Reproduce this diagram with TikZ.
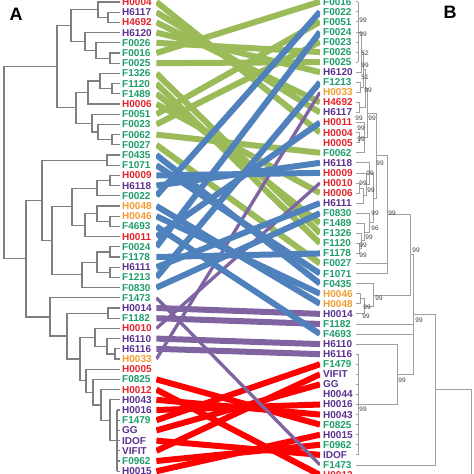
\documentclass[tikz,border=0pt]{standalone}
\usepackage{fontspec}
\setmainfont{Liberation Sans}
\definecolor{labgreen}{HTML}{1E9E6B}
\definecolor{labred}{HTML}{E4232B}
\definecolor{labpurple}{HTML}{5B318F}
\definecolor{laborange}{HTML}{F39C2E}
\definecolor{ribgreen}{HTML}{9BBB59}
\definecolor{ribblue}{HTML}{4F81BD}
\definecolor{ribpurple}{HTML}{8064A2}
\definecolor{ribred}{HTML}{FF0000}
\definecolor{ltreegray}{HTML}{7F7F7F}
\definecolor{rtreegray}{HTML}{A0A0A0}
\tikzset{
  leftlab/.style={anchor=west, inner xsep=1pt, inner ysep=0pt, text width=33pt, align=left, font=\bfseries\fontsize{10}{12}\selectfont},
  rightlab/.style={anchor=west, inner xsep=3pt, inner ysep=0pt, text width=33pt, align=left, font=\bfseries\fontsize{10}{12}\selectfont},
  ribbon/.style={line width=6pt},
  thinribbon/.style={line width=3.3pt},
  ltree/.style={draw=ltreegray, line width=1.2pt},
  rtree/.style={draw=rtreegray, line width=0.8pt},
  boot/.style={inner sep=0pt, text=black!75, font=\fontsize{6.5}{7}\selectfont},
  panel/.style={inner sep=0pt, font=\bfseries\fontsize{18}{20}\selectfont}
}
\begin{document}
\begin{tikzpicture}[x=1pt, y=-1pt]
        \path[fill=white, use as bounding box] (0,0) rectangle (474,474);
        \clip (0,0) rectangle (474,474);

        % Panel letters
        \node[panel] (pA) at (16,14) {A};
        \node[panel] (pB) at (450,12) {B};

        % Left labels (tree A)
        \foreach \name/\col [count=\i from 0] in {H0004/labred, H6117/labpurple, H4692/labred, H6120/labpurple, F0026/labgreen, F0016/labgreen, F0025/labgreen, F1326/labgreen, F1120/labgreen, F1489/labgreen, H0006/labred, F0051/labgreen, F0023/labgreen, F0062/labgreen, F0027/labgreen, F0435/labgreen, F1071/labgreen, H0009/labred, H6118/labpurple, F0022/labgreen, H0048/laborange, H0046/laborange, F4693/labgreen, H0011/labred, F0024/labgreen, F1178/labgreen, H6111/labpurple, F1213/labgreen, F0830/labgreen, F1473/labgreen, H0014/labpurple, F1182/labgreen, H0010/labred, H6110/labpurple, H6116/labpurple, H0033/laborange, H0005/labred, F0825/labgreen, H0012/labred, H0043/labpurple, H0016/labpurple, F1479/labgreen, GG/labpurple, IDOF/labpurple, VIFIT/labpurple, F0962/labgreen, H0015/labpurple}
          \node[leftlab, text=\col] (L\name) at (121,{2+10.2*\i}) {\name};

        % Right labels (tree B)
        \foreach \name/\col [count=\i from 0] in {F0016/labgreen, F0022/labgreen, F0051/labgreen, F0024/labgreen, F0023/labgreen, F0026/labgreen, F0025/labgreen, H6120/labpurple, F1213/labgreen, H0033/laborange, H4692/labred, H6117/labpurple, H0011/labred, H0004/labred, H0005/labred, F0062/labgreen, H6118/labpurple, H0009/labred, H0010/labred, H0006/labred, H6111/labpurple, F0830/labgreen, F1489/labgreen, F1326/labgreen, F1120/labgreen, F1178/labgreen, F0027/labgreen, F1071/labgreen, F0435/labgreen, H0046/laborange, H0048/laborange, H0014/labpurple, F1182/labgreen, F4693/labgreen, H6110/labpurple, H6116/labpurple, F1479/labgreen, VIFIT/labpurple, GG/labpurple, H0044/labpurple, H0016/labpurple, H0043/labpurple, F0825/labgreen, H0015/labpurple, F0962/labgreen, IDOF/labpurple, F1473/labgreen, H0012/labred}
          \node[rightlab, text=\col] (R\name) at (320,{1.7+10.07*\i}) {\name};

        % Ribbons between the same isolates
        \begin{scope}
          \clip (156,-10) rectangle (320,490);
          \foreach \name in {H0004, H6117, H4692, H6120, F0026, F0016, F0025, F1326, F1120, F1489, H0006, F0051, F0023, F0062, F0027}
            \draw[ribbon, ribgreen] (L\name.east) -- (R\name.west);
          \foreach \name in {F0825, H0012, H0043, H0016, F1479, GG, IDOF, VIFIT, F0962, H0015}
            \draw[ribbon, ribred] (L\name.east) -- (R\name.west);
          \foreach \name in {H0014, F1182, H6110, H6116}
            \draw[ribbon, ribpurple] (L\name.east) -- (R\name.west);
          \foreach \name in {F1473, H0010, H0033}
            \draw[thinribbon, ribpurple] (L\name.east) -- (R\name.west);
          \foreach \name in {F0435, F1071, H0009, H6118, F0022, H0048, H0046, F4693, H0011, F0024, F1178, H6111, F1213, F0830}
            \draw[ribbon, ribblue] (L\name.east) -- (R\name.west);
        \end{scope}

        % Tree A, upper clade
        \draw[ltree] (120,12.2) -| (108,22.4) -- (120,22.4);
        \draw[ltree] (120,2) -| (98,17.3) -- (108,17.3);
        \draw[ltree] (120,53) -| (110,63.2) -- (120,63.2);
        \draw[ltree] (120,42.8) -| (96,58.1) -- (110,58.1);
        \draw[ltree] (120,32.6) -| (85,50.45) -- (96,50.45);
        \draw[ltree] (98,9.65) -| (71,41.5) -- (85,41.5);
        \draw[ltree] (120,83.6) -| (112,93.8) -- (120,93.8);
        \draw[ltree] (120,73.4) -| (100,88.7) -- (112,88.7);
        \draw[ltree] (100,81.05) -| (88,104) -- (120,104);
        \draw[ltree] (120,134.6) -| (112,144.8) -- (120,144.8);
        \draw[ltree] (120,124.4) -| (98,139.7) -- (112,139.7);
        \draw[ltree] (120,114.2) -| (92,132.05) -- (98,132.05);
        \draw[ltree] (88,92.5) -| (76,123.1) -- (92,123.1);
        \draw[ltree] (71,25.6) -| (57,107.8) -- (76,107.8);

        % Tree A, lower clade
        \draw[ltree] (120,155) -| (107,165.2) -- (120,165.2);
        \draw[ltree] (120,175.4) -| (110,185.6) -- (120,185.6);
        \draw[ltree] (110,180.5) -| (97,195.8) -- (120,195.8);
        \draw[ltree] (120,216.2) -| (110,226.4) -- (120,226.4);
        \draw[ltree] (120,206) -| (97,221.3) -- (110,221.3);
        \draw[ltree] (97,213.65) -| (85,236.6) -- (120,236.6);
        \draw[ltree] (97,188.15) -| (72,225.1) -- (85,225.1);
        \draw[ltree] (120,246.8) -| (110,257) -- (120,257);
        \draw[ltree] (120,267.2) -| (110,277.4) -- (120,277.4);
        \draw[ltree] (110,251.9) -| (97,272.3) -- (110,272.3);
        \draw[ltree] (97,262.1) -| (82,287.6) -- (120,287.6);
        \draw[ltree] (72,206.6) -| (52,274.85) -- (82,274.85);
        \draw[ltree] (107,160.1) -| (42,240.7) -- (52,240.7);
        \draw[ltree] (120,308) -| (108,318.2) -- (120,318.2);
        \draw[ltree] (120,348.8) -| (115,359) -- (120,359);
        \draw[ltree] (120,338.6) -| (107,353.9) -- (115,353.9);
        \draw[ltree] (120,328.4) -| (95,346.25) -- (107,346.25);
        \draw[ltree] (117,410) -- (117,471.2);
        \foreach \y in {410,420.2,430.4,440.6,450.8,461,471.2}
          \draw[ltree] (117,\y) -- (120,\y);
        \draw[ltree] (120,399.8) -| (110,440.6) -- (117,440.6);
        \draw[ltree] (120,389.6) -| (101,420.2) -- (110,420.2);
        \draw[ltree] (120,379.4) -| (93,404.9) -- (101,404.9);
        \draw[ltree] (120,369.2) -| (86,392.15) -- (93,392.15);
        \draw[ltree] (95,337.3) -| (80,380.7) -- (86,380.7);
        \draw[ltree] (108,313.1) -| (67,359) -- (80,359);
        \draw[ltree] (120,297.8) -| (50,336.05) -- (67,336.05);
        \draw[ltree] (42,200.4) -| (26,316.9) -- (50,316.9);
        \draw[ltree] (57,66.7) -| (4,258.7) -- (26,258.7);

        % Tree B, upper part
        \draw[rtree] (358,1.7) -- (358,62.1);
        \foreach \y in {1.7,11.8,21.8,31.9,42,52.1,62.1}
          \draw[rtree] (356,\y) -- (358,\y);
        \draw[rtree] (358,31.9) -| (361,72.2) -- (356,72.2);
        \draw[rtree] (356,82.3) -| (360,92.3) -- (356,92.3);
        \draw[rtree] (361,52.05) -| (363,87.3) -- (360,87.3);
        \draw[rtree] (356,102.4) -| (359,112.5) -- (356,112.5);
        \draw[rtree] (363,69.7) -| (365,107.45) -- (359,107.45);
        \draw[rtree] (356,132.6) -| (359,142.7) -- (356,142.7);
        \draw[rtree] (356,122.5) -| (364,152.7) -- (356,152.7);
        \draw[rtree] (359,137.65) -- (364,137.65);
        \draw[rtree] (365,88.6) -| (367,137.6) -- (364,137.6);

        % Tree B, middle part
        \draw[rtree] (356,182.9) -| (359,193) -- (356,193);
        \draw[rtree] (359,187.95) -| (363,203.1) -- (356,203.1);
        \draw[rtree] (356,172.9) -| (366,195.5) -- (363,195.5);
        \draw[rtree] (356,162.8) -| (369,184.2) -- (366,184.2);
        \draw[rtree] (356,243.4) -| (359,253.4) -- (356,253.4);
        \draw[rtree] (356,233.3) -| (361,248.4) -- (359,248.4);
        \draw[rtree] (356,223.2) -| (364,240.85) -- (361,240.85);
        \draw[rtree] (356,213.2) -| (369,232) -- (364,232);
        \draw[rtree] (369,173.5) -| (373,222.6) -- (369,222.6);
        \draw[rtree] (367,113.1) -| (376,198.05) -- (373,198.05);
        \draw[rtree] (376,155.6) -| (387,273.6) -- (356,273.6);
        \draw[rtree] (356,263.5) -- (387,263.5);

        % Tree B, lower part
        \draw[rtree] (356,293.7) -| (360,303.8) -- (356,303.8);
        \draw[rtree] (360,298.75) -| (364,313.8) -- (356,313.8);
        \draw[rtree] (356,283.6) -| (373,306.3) -- (364,306.3);
        \draw[rtree] (387,214.6) -| (410,294.95) -- (373,294.95);
        \draw[rtree] (358,354.1) -- (358,454.8);
        \foreach \y in {354.1,364.2,374.3,384.3,394.4,404.5,414.5,424.6,434.7,444.7,454.8}
          \draw[rtree] (356,\y) -- (358,\y);
        \draw[rtree] (356,344.1) -| (397,404.45) -- (358,404.45);
        \draw[rtree] (410,254.8) -| (413,374.3) -- (397,374.3);
        \draw[rtree] (356,323.9) -- (413,323.9);
        \draw[rtree] (356,334) -- (413,334);
        \draw[rtree] (413,314.55) -| (435,464.9) -- (356,464.9);
        \draw[rtree] (435,389.7) -| (471,480);

        % Bootstrap values
        \foreach \x/\y/\v [count=\k] in {363/20/99, 363/34/99, 365/53/52, 365/65/99, 365/77/51, 368/90/99, 359/118/99, 372/118/99, 361/128/99, 361/139/99, 380/163/99, 370/173/99, 363/183/99, 371/190/99, 375/213/99, 392/213/99, 375/228/96, 369/237/99, 363/245/99, 363/255/99, 416/250/99, 379/298/99, 367/307/99, 366/316/99, 419/320/99, 402/380/99, 363/409/99}
          \node[boot] (bs\k) at (\x,\y) {\v};
\end{tikzpicture}
\end{document}
